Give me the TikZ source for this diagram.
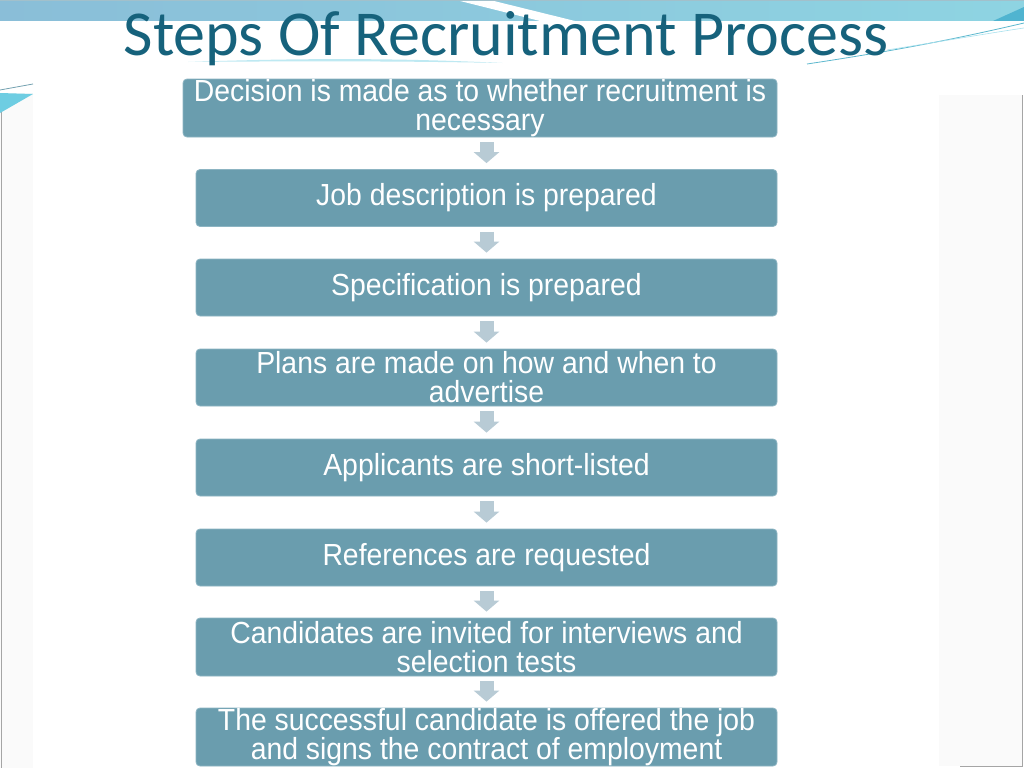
\documentclass[tikz,border=0pt]{standalone}
\usepackage{fontspec}
\setmainfont{Liberation Sans}
\newfontfamily\boxfont[FakeStretch=0.93]{Liberation Sans}
\newfontfamily\titlefont{Carlito}
\usetikzlibrary{arrows.meta}
\definecolor{boxfill}{RGB}{106,157,174}
\definecolor{boxedge}{RGB}{140,180,194}
\definecolor{arrowfill}{RGB}{184,203,213}
\definecolor{titlecol}{RGB}{22,98,124}
\definecolor{bandleft}{RGB}{138,190,216}
\definecolor{bandright}{RGB}{142,212,226}
\definecolor{bandtip}{RGB}{80,180,208}
\definecolor{swoosh}{RGB}{110,205,226}
\definecolor{panelgray}{RGB}{250,250,250}
\definecolor{edgegray}{RGB}{165,165,165}
\tikzset{
  stepbox/.style={draw=boxedge, line width=0.8pt, fill=boxfill, rounded corners=4pt,
    text=white, align=center, inner sep=0pt, font=\boxfont\fontsize{30.5}{29}\selectfont},
  flowarrow/.style={draw=arrowfill, line width=14pt, shorten <=5pt, shorten >=6pt,
    -{Triangle[width=25pt,length=11pt,fill=arrowfill]}},
}
\begin{document}
\begin{tikzpicture}[x=1pt,y=-1pt]
\useasboundingbox (0,0) rectangle (1024,768);
\fill[white] (0,0) rectangle (1024,768);
% side panels
\fill[panelgray] (0,93) rectangle (33,768);
\fill[panelgray] (939,95) rectangle (1022,766);
\draw[edgegray, line width=1.2pt] (1.5,93) -- (1.5,768);
\draw[edgegray, line width=1.2pt] (1022.5,95) -- (1022.5,766.5) -- (960,766.5);
% top band
\shade[left color=bandleft, right color=bandright] (0,0) rectangle (1024,21);
\fill[white] (456,0) -- (490,0) -- (575,21) -- (540,21) -- cycle;
\fill[bandtip] (993,21) -- (1024,21) -- (1024,7) -- cycle;
\draw[titlecol!40, line width=0.6pt] (0,0.5) -- (1024,0.5);
% swooshes
\fill[swoosh!45] (188,62) .. controls (300,58) and (400,58) .. (502,63) .. controls (400,61) and (300,61) .. (188,62) -- cycle;
\draw[swoosh!80!titlecol, line width=0.8pt] (807,64) .. controls (900,50) and (960,38) .. (1024,23);
\draw[swoosh!60, line width=0.6pt] (887,50) .. controls (950,40) and (990,33) .. (1024,28);
% left ornament
\fill[swoosh] (0,93) -- (33,94) -- (0,113) -- cycle;
\draw[titlecol!60, line width=0.8pt] (0,90) -- (33,84);
% title
\node[font=\titlefont\fontsize{64}{66}\selectfont, text=titlecol, anchor=base] (title) at (506,56) {Steps Of Recruitment Process};
% boxes
\node[stepbox, minimum width=594pt, minimum height=58pt] (b1) at (480,108) {Decision is made as to whether recruitment is\\necessary};
\node[stepbox, minimum width=581pt, minimum height=57pt] (b2) at (486.5,198) {Job description is prepared};
\node[stepbox, minimum width=581pt, minimum height=57pt] (b3) at (486.5,287.5) {Specification is prepared};
\node[stepbox, minimum width=581pt, minimum height=57pt] (b4) at (486.5,377.5) {Plans are made on how and when to\\advertise};
\node[stepbox, minimum width=581pt, minimum height=57pt] (b5) at (486.5,467.5) {Applicants are short-listed};
\node[stepbox, minimum width=581pt, minimum height=57pt] (b6) at (486.5,557.5) {References are requested};
\node[stepbox, minimum width=581pt, minimum height=58pt] (b7) at (486.5,647) {Candidates are invited for interviews and\\selection tests};
\node[stepbox, minimum width=581pt, minimum height=58pt] (b8) at (486.5,737) {The successful candidate is offered the job\\and signs the contract of employment};
% arrows
\draw[flowarrow] (b1.south -| b2.north) -- (b2.north);
\foreach \a/\b in {b2/b3,b3/b4,b4/b5,b5/b6,b6/b7,b7/b8}
  \draw[flowarrow] (\a.south) -- (\b.north);
\end{tikzpicture}
\end{document}
